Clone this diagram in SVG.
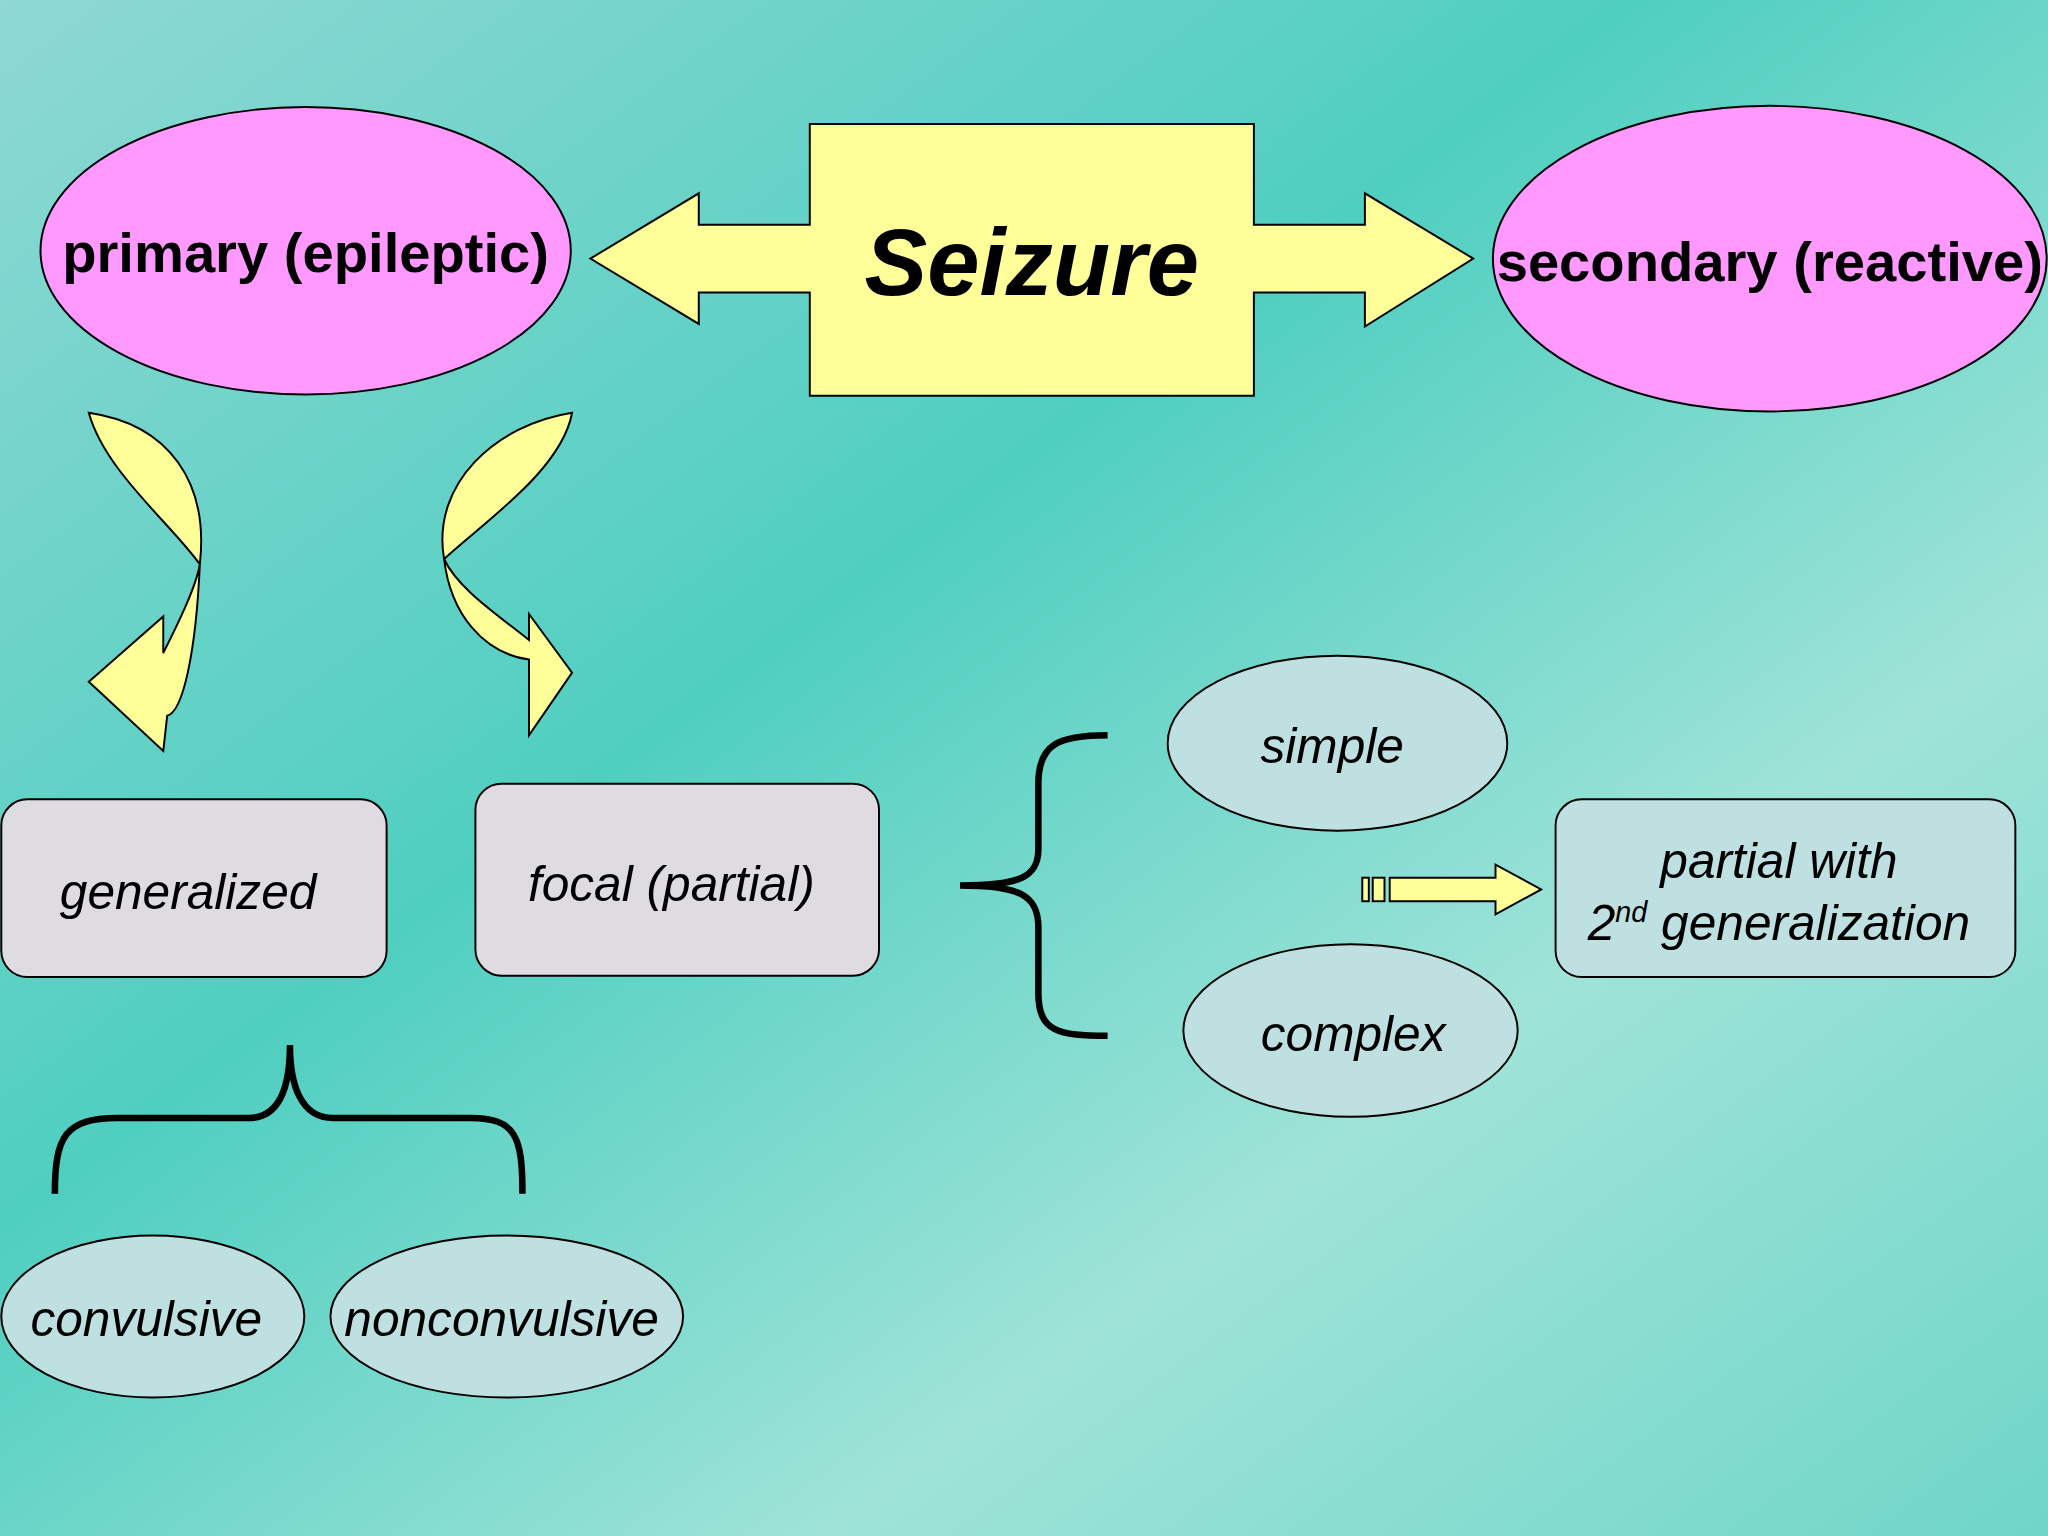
<svg xmlns="http://www.w3.org/2000/svg" width="2048" height="1536" viewBox="0 0 2048 1536">
<defs>
<linearGradient id="bg" x1="0" y1="0" x2="1" y2="1">
<stop offset="0" stop-color="#8fd8d4"/><stop offset="0.4" stop-color="#4fcfc0"/><stop offset="0.7" stop-color="#9fe3d8"/><stop offset="1" stop-color="#6fd6c8"/>
</linearGradient>
<style>
.y{fill:#FFFF99;stroke:#000;stroke-width:1.5}
.m{fill:#FF99FF;stroke:#000;stroke-width:1.5}
.g{fill:#DEDCE0;stroke:#000;stroke-width:1.5}
.t{fill:#BEE0E0;stroke:#000;stroke-width:1.5}
.br{fill:none;stroke:#000;stroke-width:5}
text{font-family:"Liberation Sans",Arial,sans-serif;text-anchor:middle;fill:#000}
.b{font-weight:bold;font-size:43px}
.i{font-style:italic;font-size:38px}
</style>
</defs>
<rect width="2048" height="1536" fill="url(#bg)"/>
<g transform="scale(1.30612)">
<g id="seizure"><path class="y" d="M452,198 L535,148 L535,172 L620,172 L620,95 L960,95 L960,172 L1045,172 L1045,148 L1128,198 L1045,250 L1045,224 L960,224 L960,303 L620,303 L620,224 L535,224 L535,248 Z"/>
<text x="790" y="226" style="font-weight:bold;font-style:italic;font-size:72px">Seizure</text></g>
<g id="primary"><ellipse class="m" cx="234" cy="192" rx="203" ry="110"/><text class="b" x="234" y="208">primary (epileptic)</text></g>
<g id="secondary"><ellipse class="m" cx="1355" cy="198" rx="212" ry="117"/><text class="b" x="1355" y="215">secondary (reactive)</text></g>
<g id="connectors">
<path class="y" d="M68,316 C130,325 160,370 153,432 C150,500 140,545 128,548 L125,575 L68,522 L125,472 L125,500 C135,480 150,450 153,432 C130,400 80,360 68,316 Z"/>
<path class="y" d="M438,316 C380,325 330,370 340,428 C345,470 370,500 405,505 L405,563 L438,515 L405,470 L405,490 C380,470 350,450 340,428 C370,400 430,360 438,316 Z"/>
<path class="br" d="M42,914 C42,870 50,856 90,856 L190,856 C215,856 222,830 222,800 C222,830 230,856 255,856 L360,856 C395,856 400,870 400,914"/>
<path class="br" d="M848,563 C810,563 795,570 795,600 L795,650 C795,672 780,678 735,678 C780,678 795,685 795,710 L795,760 C795,790 810,793 848,793"/>
<rect class="y" x="1043" y="672" width="5" height="18"/><rect class="y" x="1051" y="672" width="9" height="18"/>
<path class="y" d="M1064,672 L1145,672 L1145,662 L1180,681 L1145,700 L1145,690 L1064,690 Z"/>
</g>
<g id="generalized"><rect class="g" x="1" y="612" width="295" height="136" rx="20"/><text class="i" x="144" y="696">generalized</text></g>
<g id="focal"><rect class="g" x="364" y="600" width="309" height="147" rx="20"/><text class="i" x="514" y="690">focal (partial)</text></g>
<g id="convulsive"><ellipse class="t" cx="117" cy="1008" rx="116" ry="62"/><text class="i" x="112" y="1023">convulsive</text></g>
<g id="nonconvulsive"><ellipse class="t" cx="388" cy="1008" rx="135" ry="62"/><text class="i" x="384" y="1023">nonconvulsive</text></g>
<g id="simple"><ellipse class="t" cx="1024" cy="569" rx="130" ry="67"/><text class="i" x="1020" y="584">simple</text></g>
<g id="complex"><ellipse class="t" cx="1034" cy="789" rx="128" ry="66"/><text class="i" x="1036" y="805">complex</text></g>
<g id="partial2"><rect class="t" x="1191" y="612" width="352" height="136" rx="20"/>
<text class="i" x="1362" y="672">partial with</text>
<text class="i" x="1362" y="720">2<tspan dy="-14" font-size="22">nd</tspan><tspan dy="14"> generalization</tspan></text></g>
</g>
</svg>
